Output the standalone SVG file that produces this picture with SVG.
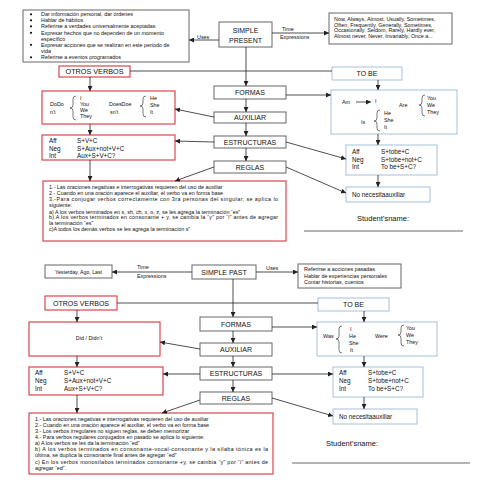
<svg xmlns="http://www.w3.org/2000/svg" width="495" height="495" viewBox="0 0 495 495">
<defs>
<marker id="ah" viewBox="0 0 6 6" refX="6" refY="3" markerWidth="5" markerHeight="5" markerUnits="userSpaceOnUse" orient="auto"><path d="M0,0 L6,3 L0,6 z" fill="#222"/></marker>
<style>
text{font-family:"Liberation Sans",Arial,sans-serif;fill:#111}
.g{fill:#fff;stroke:#666;stroke-width:1}
.r{fill:#fff;stroke:#d9474f;stroke-width:1.2}
.b{fill:#fff;stroke:#a8bfd9;stroke-width:1}
.lbl{font-size:7px;text-anchor:middle}
.s{font-size:5.4px}
.m{font-size:6.3px}
.c line,.c path{stroke:#222;stroke-width:0.8;fill:none}
.a{marker-end:url(#ah)}
.br{stroke:#222;stroke-width:0.6;fill:none}
.dot{fill:#111}
</style>
</defs>
<rect width="495" height="495" fill="#fff"/>

<!-- ===== TOP: SIMPLE PRESENT ===== -->
<g id="usesPresent">
<rect class="g" x="23" y="10" width="166" height="52"/>
<circle class="dot" cx="31" cy="14.3" r="1.1"/>
<circle class="dot" cx="31" cy="20.3" r="1.1"/>
<circle class="dot" cx="31" cy="26.3" r="1.1"/>
<circle class="dot" cx="31" cy="32.8" r="1.1"/>
<circle class="dot" cx="31" cy="44.8" r="1.1"/>
<circle class="dot" cx="31" cy="57.3" r="1.1"/>
<g class="s">
<text x="41" y="16">Dar información personal, dar órdenes</text>
<text x="41" y="22">Hablar de hábitos</text>
<text x="41" y="28">Referirse a verdades universalmente aceptadas</text>
<text x="41" y="34.5">Expresar hechos que no dependen de un momento</text>
<text x="41" y="40.5">específico</text>
<text x="41" y="46.5">Expresar acciones que se realizan en este periodo de</text>
<text x="41" y="52.5">vida</text>
<text x="41" y="59">Referirse a eventos programados</text>
</g>
</g>
<g id="simplePresent">
<rect class="g" x="219" y="22" width="53" height="25"/>
<text class="lbl" x="245.5" y="32.5">SIMPLE</text>
<text class="lbl" x="245.5" y="42.5">PRESENT</text>
</g>
<g id="timePresent">
<rect class="g" x="329" y="13" width="123" height="31"/>
<g class="s">
<text x="334" y="21">Now, Always, Almost, Usually, Sometimes,</text>
<text x="334" y="26.5">Often, Frequently, Generally, Sometimes,</text>
<text x="334" y="32">Occasionally, Seldom, Rarely, Hardly ever,</text>
<text x="334" y="37.5">Almost never, Never, Invariably, Once a...</text>
</g>
</g>
<g id="otrosVerbos1">
<rect class="r" x="59" y="66" width="71" height="11"/>
<text class="lbl" x="94.5" y="74" textLength="58" lengthAdjust="spacingAndGlyphs">OTROS VERBOS</text>
</g>
<g id="toBe1">
<rect class="b" x="332" y="67" width="70" height="13"/>
<text class="lbl" x="367" y="76">TO BE</text>
</g>
<g id="doForms">
<rect class="r" x="42" y="91" width="133" height="33"/>
<g class="s">
<text x="50" y="106">DoDo</text><text x="50" y="114">n't</text>
<text x="80" y="100">I</text><text x="80" y="106">You</text><text x="80" y="112">We</text><text x="80" y="118">They</text>
<text x="109" y="106">DoesDoe</text><text x="110" y="114">sn't</text>
<text x="150" y="100">He</text><text x="150" y="107">She</text><text x="150" y="114">It</text>
</g>
<path class="br" d="M76,96 Q73,96 73,99 L73,105 Q73,108 70,108 Q73,108 73,111 L73,117 Q73,120 76,120"/>
<path class="br" d="M146,96 Q143,96 143,99 L143,103 Q143,106 140,106 Q143,106 143,109 L143,114 Q143,117 146,117"/>
</g>
<g id="struct1">
<rect class="r" x="42" y="135" width="133" height="25"/>
<g class="m">
<text x="49" y="143">Aff</text><text x="77" y="143">S+V+C</text>
<text x="49" y="150.5">Neg</text><text x="77" y="150.5">S+Aux+not+V+C</text>
<text x="49" y="158">Int</text><text x="77" y="158">Aux+S+V+C?</text>
</g>
</g>
<g id="rules1">
<rect class="r" x="43" y="181" width="243" height="60"/>
<g class="s">
<text x="49" y="189">1.- Las oraciones negativas e interrogativas requieren del uso de auxiliar</text>
<text x="49" y="195">2.- Cuando en una oración aparece el auxiliar, el verbo va en forma base</text>
<text x="49" y="201" textLength="229" lengthAdjust="spacing">3.-Para conjugar verbos correctamente con 3ra personas del singular, se aplica lo</text>
<text x="49" y="206.5">siguiente:</text>
<text x="49" y="213.5">a) A los verbos terminados en s, sh, ch, x, o, z, se les agrega la terminación “es”</text>
<text x="49" y="219" textLength="229" lengthAdjust="spacing">b) A los verbos terminados en consonante + y, se cambia la “y” por “i” antes de agregar</text>
<text x="49" y="224.5">la terminación “es”</text>
<text x="49" y="231">c)A todos los demás verbos se les agrega la terminación s”</text>
</g>
</g>
<g id="formas1"><rect class="g" x="214" y="86" width="72" height="13"/><text class="lbl" x="250" y="95">FORMAS</text></g>
<g id="auxiliar1"><rect class="g" x="214" y="112" width="72" height="11"/><text class="lbl" x="250" y="120">AUXILIAR</text></g>
<g id="estructuras1"><rect class="g" x="214" y="136" width="72" height="12"/><text class="lbl" x="250" y="144.5">ESTRUCTURAS</text></g>
<g id="reglas1"><rect class="g" x="214" y="161" width="72" height="12"/><text class="lbl" x="250" y="169.5">REGLAS</text></g>
<g id="toBeForms1">
<rect class="b" x="331" y="90" width="126" height="44"/>
<g class="s">
<text x="342" y="104">Am</text>
<text x="375" y="103">I</text>
<text x="399" y="107">Are</text>
<text x="427" y="100">You</text><text x="427" y="107">We</text><text x="427" y="114">They</text>
<text x="361" y="124">Is</text>
<text x="384" y="115">He</text><text x="384" y="122">She</text><text x="384" y="129">It</text>
</g>
<path class="br" d="M425,95 Q422,95 422,98 L422,102 Q422,105 419,105 Q422,105 422,108 L422,113 Q422,116 425,116"/>
<path class="br" d="M380,110 Q377,110 377,113 L377,118 Q377,121 374,121 Q377,121 377,124 L377,128 Q377,131 380,131"/>
</g>
<g id="toBeStruct1">
<rect class="b" x="346" y="145" width="91" height="30"/>
<g class="m">
<text x="352" y="154">Aff</text><text x="381" y="154">S+tobe+C</text>
<text x="352" y="161.5">Neg</text><text x="381" y="161.5">S+tobe+not+C</text>
<text x="352" y="169">Int</text><text x="381" y="169">To be+S+C?</text>
</g>
</g>
<g id="noAux1">
<rect class="b" x="346" y="187" width="84" height="15"/>
<text class="m" x="352" y="197">No necesitaauxiliar</text>
</g>
<g id="student1">
<text x="357" y="221" style="font-size:7.5px">Student’sname:</text>
<line x1="304" y1="231" x2="463" y2="231" stroke="#444" stroke-width="0.8"/>
</g>

<!-- ===== BOTTOM: SIMPLE PAST ===== -->
<g id="timePast">
<rect class="g" x="45" y="265" width="67" height="13"/>
<text class="lbl" x="78.5" y="273.5" style="font-size:5.2px">Yesterday, Ago, Last</text>
</g>
<g id="simplePast">
<rect class="g" x="192" y="265" width="64" height="14"/>
<text class="lbl" x="224" y="274.5">SIMPLE PAST</text>
</g>
<g id="usesPast">
<rect class="g" x="298" y="264" width="103" height="24"/>
<g class="s">
<text x="304" y="271">Referirse a acciones pasadas</text>
<text x="304" y="277.5">Hablar de experiencias personales</text>
<text x="304" y="284">Contar historias, cuentos</text>
</g>
</g>
<g id="otrosVerbos2">
<rect class="r" x="45" y="296" width="72" height="14"/>
<text class="lbl" x="81" y="305.5">OTROS VERBOS</text>
</g>
<g id="toBe2">
<rect class="b" x="318" y="298" width="71" height="13"/>
<text class="lbl" x="353.5" y="307">TO BE</text>
</g>
<g id="didForms">
<rect class="r" x="29" y="322" width="131" height="34"/>
<text class="lbl s" x="89" y="340">Did / Didn’t</text>
</g>
<g id="struct2">
<rect class="r" x="29" y="367" width="134" height="28"/>
<g class="m">
<text x="35" y="375">Aff</text><text x="64" y="375">S+V+C</text>
<text x="35" y="383">Neg</text><text x="64" y="383">S+Aux+not+V+C</text>
<text x="35" y="391">Int</text><text x="64" y="391">Aux+S+V+C?</text>
</g>
</g>
<g id="rules2">
<rect class="r" x="29" y="413" width="244" height="61"/>
<g class="s">
<text x="35" y="420.5">1.- Las oraciones negativas e interrogativas requieren del uso de auxiliar</text>
<text x="35" y="426.5">2.- Cuando en una oración aparece el auxiliar, el verbo va en forma base</text>
<text x="35" y="432.5">3.- Los verbos irregulares no siguen reglas, se deben memorizar</text>
<text x="35" y="438.5">4.- Para verbos regulares conjugados en pasado se aplica lo siguiente:</text>
<text x="35" y="444.5">a) A los verbos se les da la terminación “ed”</text>
<text x="35" y="450.5" textLength="233" lengthAdjust="spacing">b) A los verbos terminados en consonante-vocal-consonante y la sílaba tónica es la</text>
<text x="35" y="457">última, se duplica la consonante final antes de agregar “ed”</text>
<text x="35" y="463.5" textLength="233" lengthAdjust="spacing">c) En los verbos monosílabos terminados consonante +y, se cambia “y” por “i” antes de</text>
<text x="35" y="469.5">agregar “ed”.</text>
</g>
</g>
<g id="formas2"><rect class="g" x="200" y="317" width="72" height="14"/><text class="lbl" x="236" y="326.5">FORMAS</text></g>
<g id="auxiliar2"><rect class="g" x="200" y="343" width="72" height="13"/><text class="lbl" x="236" y="352">AUXILIAR</text></g>
<g id="estructuras2"><rect class="g" x="200" y="367" width="72" height="13"/><text class="lbl" x="236" y="376">ESTRUCTURAS</text></g>
<g id="reglas2"><rect class="g" x="200" y="392" width="72" height="12"/><text class="lbl" x="236" y="400.5">REGLAS</text></g>
<g id="toBeForms2">
<rect class="b" x="317" y="322" width="120" height="34"/>
<g class="s">
<text x="323" y="338">Was</text>
<text x="350" y="331">I</text><text x="349" y="338">He</text><text x="349" y="345">She</text><text x="350" y="352">It</text>
<text x="375" y="338">Were</text>
<text x="406" y="330">You</text><text x="406" y="337">We</text><text x="406" y="344">They</text>
</g>
<path class="br" d="M342,326 Q339,326 339,329 L339,336 Q339,339 336,339 Q339,339 339,342 L339,350 Q339,353 342,353"/>
<path class="br" d="M404,325 Q401,325 401,328 L401,332 Q401,335 398,335 Q401,335 401,338 L401,343 Q401,346 404,346"/>
</g>
<g id="toBeStruct2">
<rect class="b" x="333" y="367" width="90" height="30"/>
<g class="m">
<text x="339" y="375">Aff</text><text x="368" y="375">S+tobe+C</text>
<text x="339" y="383">Neg</text><text x="368" y="383">S+tobe+not+C</text>
<text x="339" y="391">Int</text><text x="368" y="391">To be+S+C?</text>
</g>
</g>
<g id="noAux2">
<rect class="b" x="333" y="409" width="84" height="15"/>
<text class="m" x="339" y="419">No necesitaauxiliar</text>
</g>
<g id="student2">
<text x="326" y="446" style="font-size:7.5px">Student’sname:</text>
<line x1="292" y1="463" x2="470" y2="463" stroke="#444" stroke-width="0.8"/>
</g>

<!-- ===== CONNECTORS ===== -->
<g id="connectors" class="c">
<line class="a" x1="219" y1="40" x2="189" y2="40"/>
<text x="197" y="38.5" style="font-size:5.4px;stroke:none">Uses</text>
<line class="a" x1="272" y1="33" x2="329" y2="33"/>
<text x="282" y="30.5" style="font-size:5.4px;stroke:none">Time</text>
<text x="280" y="38.5" style="font-size:5.4px;stroke:none">Expressions</text>
<line class="a" x1="246" y1="47" x2="246" y2="86"/>
<line x1="130" y1="71" x2="332" y2="71"/>
<line class="a" x1="90" y1="77" x2="90" y2="91"/>
<line class="a" x1="90" y1="124" x2="90" y2="135"/>
<line class="a" x1="90" y1="160" x2="90" y2="181"/>
<line class="a" x1="246" y1="99" x2="246" y2="112"/>
<line class="a" x1="246" y1="123" x2="246" y2="136"/>
<line class="a" x1="246" y1="148" x2="246" y2="161"/>
<line class="a" x1="286" y1="95" x2="331" y2="95"/>
<line class="a" x1="214" y1="117" x2="175" y2="109"/>
<line class="a" x1="214" y1="142" x2="175" y2="141"/>
<line class="a" x1="214" y1="167" x2="175" y2="181"/>
<line class="a" x1="286" y1="142" x2="346" y2="159"/>
<line class="a" x1="286" y1="167" x2="346" y2="193"/>
<line class="a" x1="356" y1="102" x2="371" y2="102"/>
<line class="a" x1="378" y1="80" x2="378" y2="90"/>
<line class="a" x1="378" y1="134" x2="378" y2="145"/>
<line class="a" x1="378" y1="175" x2="378" y2="187"/>

<line class="a" x1="192" y1="272" x2="112" y2="272"/>
<text x="137" y="269" style="font-size:5.4px;stroke:none">Time</text>
<text x="137" y="278" style="font-size:5.4px;stroke:none">Expressions</text>
<line class="a" x1="256" y1="272" x2="298" y2="272"/>
<text x="266" y="270" style="font-size:5.4px;stroke:none">Uses</text>
<line class="a" x1="233" y1="279" x2="233" y2="317"/>
<line x1="117" y1="303" x2="318" y2="303"/>
<line class="a" x1="77" y1="310" x2="77" y2="322"/>
<line class="a" x1="77" y1="356" x2="77" y2="367"/>
<line class="a" x1="77" y1="395" x2="77" y2="413"/>
<line class="a" x1="233" y1="331" x2="233" y2="343"/>
<line class="a" x1="233" y1="356" x2="233" y2="367"/>
<line class="a" x1="233" y1="380" x2="233" y2="392"/>
<line class="a" x1="272" y1="327" x2="317" y2="327"/>
<line class="a" x1="200" y1="349" x2="160" y2="342"/>
<line class="a" x1="200" y1="374" x2="163" y2="374"/>
<line class="a" x1="200" y1="400" x2="162" y2="413"/>
<line class="a" x1="364" y1="311" x2="364" y2="322"/>
<line class="a" x1="364" y1="356" x2="364" y2="367"/>
<line class="a" x1="272" y1="374" x2="333" y2="374"/>
<line class="a" x1="364" y1="397" x2="364" y2="409"/>
<line class="a" x1="272" y1="398" x2="333" y2="416"/>
</g>
</svg>
